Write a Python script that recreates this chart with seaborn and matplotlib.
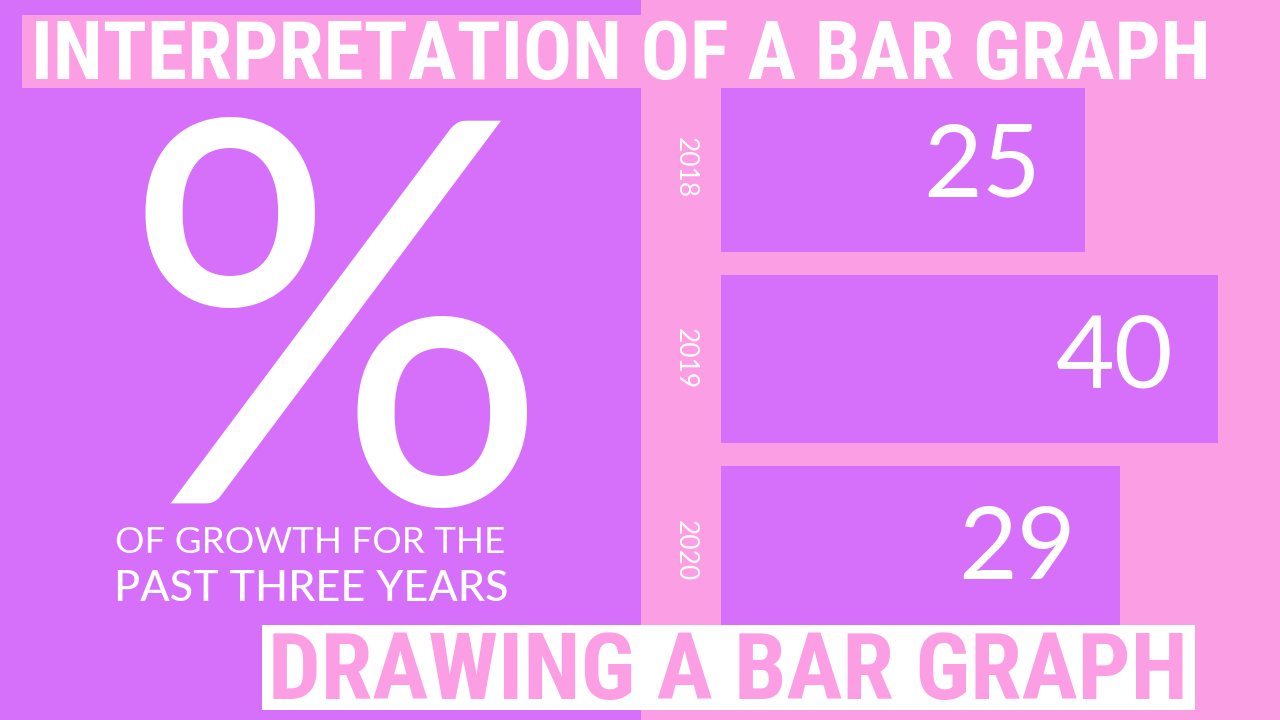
import matplotlib
matplotlib.use("Agg")
import matplotlib.pyplot as plt
from matplotlib.patches import Rectangle
import seaborn as sns
import pandas as pd

# data
years = ["2018", "2019", "2020"]
growth = [25, 40, 29]

title_top = "INTERPRETATION OF A BAR GRAPH"
title_bottom = "DRAWING A BAR GRAPH"
caption = ["OF GROWTH FOR THE", "PAST THREE YEARS"]

PURPLE = "#d670fa"
PINK = "#fc9ee4"
XMIN = -16  # bars start left of zero, like the original layout


def fit_width(fig, txt, width_px):
    # shrink/grow a text so it spans width_px pixels
    r = fig.canvas.get_renderer()
    w = txt.get_window_extent(renderer=r).width
    txt.set_fontsize(txt.get_fontsize() * width_px / w)


sns.set_theme(style="white")
plt.rcParams["font.family"] = ["Lato", "DejaVu Sans"]

fig = plt.figure(figsize=(12.8, 7.2), dpi=100)
fig.patch.set_facecolor(PINK)

# left purple panel
fig.patches.append(Rectangle((0, 0), 641 / 1280, 1, transform=fig.transFigure,
                             facecolor=PURPLE, edgecolor="none", zorder=0))

# bar chart on the right
ax = fig.add_axes([721 / 1280, 1 - 646 / 720, 559 / 1280, 574 / 720])
ax.set_facecolor("none")
df = pd.DataFrame({"Year": years, "Growth": growth})
sns.barplot(data=df, x="Growth", y="Year", orient="h", color=PURPLE,
            saturation=1, width=0.88, ax=ax)
for p in ax.patches:
    w = p.get_width()
    p.set_x(XMIN)
    p.set_width(w - XMIN)
    p.set_edgecolor("none")
ax.set_xlim(XMIN, XMIN + 63)
ax.set_ylim(2.5, -0.5)
for i, v in enumerate(growth):
    ax.text(v - 5, i, str(v), color="white", fontsize=73, ha="right",
            va="center")
ax.set_xlabel("")
ax.set_ylabel("")
ax.set_xticks([])
ax.tick_params(axis="y", length=0, pad=17, labelsize=19, labelcolor="white")
ax.set_yticks(range(len(years)))
ax.set_yticklabels(years, rotation=-90, va="center")
sns.despine(ax=ax, left=True, bottom=True)

# big percent sign and caption
fig.text(336 / 1280, 1 - 352 / 720, "%", color="white", fontsize=385,
         fontweight="normal", ha="center", va="center")
c1 = fig.text(310 / 1280, 1 - 553 / 720, caption[0], color="white",
              fontsize=26, ha="center", va="baseline")
c2 = fig.text(311 / 1280, 1 - 601 / 720, caption[1], color="white",
              fontsize=30, fontweight="medium", ha="center", va="baseline")
fit_width(fig, c1, 390)
fit_width(fig, c2, 393)

# header and footer banners
narrow = ["Roboto Condensed", "Lato", "DejaVu Sans"]
fig.patches.append(Rectangle((22 / 1280, 1 - 88 / 720), 1193 / 1280, 73 / 720,
                             transform=fig.transFigure, facecolor=PINK,
                             edgecolor="none", zorder=1))
t1 = fig.text(621 / 1280, 1 - 57 / 720, title_top, color="white", fontsize=60,
              fontweight="bold", family=narrow, ha="center", va="center",
              zorder=2)
fig.patches.append(Rectangle((262 / 1280, 1 - 710 / 720), 933 / 1280, 85 / 720,
                             transform=fig.transFigure, facecolor="white",
                             edgecolor="none", zorder=1))
t2 = fig.text(728 / 1280, 1 - 673 / 720, title_bottom, color=PINK,
              fontsize=64, fontweight="bold", family=narrow, ha="center",
              va="center", zorder=2)
fit_width(fig, t1, 1180)
fit_width(fig, t2, 920)

fig.savefig("out.png", dpi=100, facecolor=fig.get_facecolor())
